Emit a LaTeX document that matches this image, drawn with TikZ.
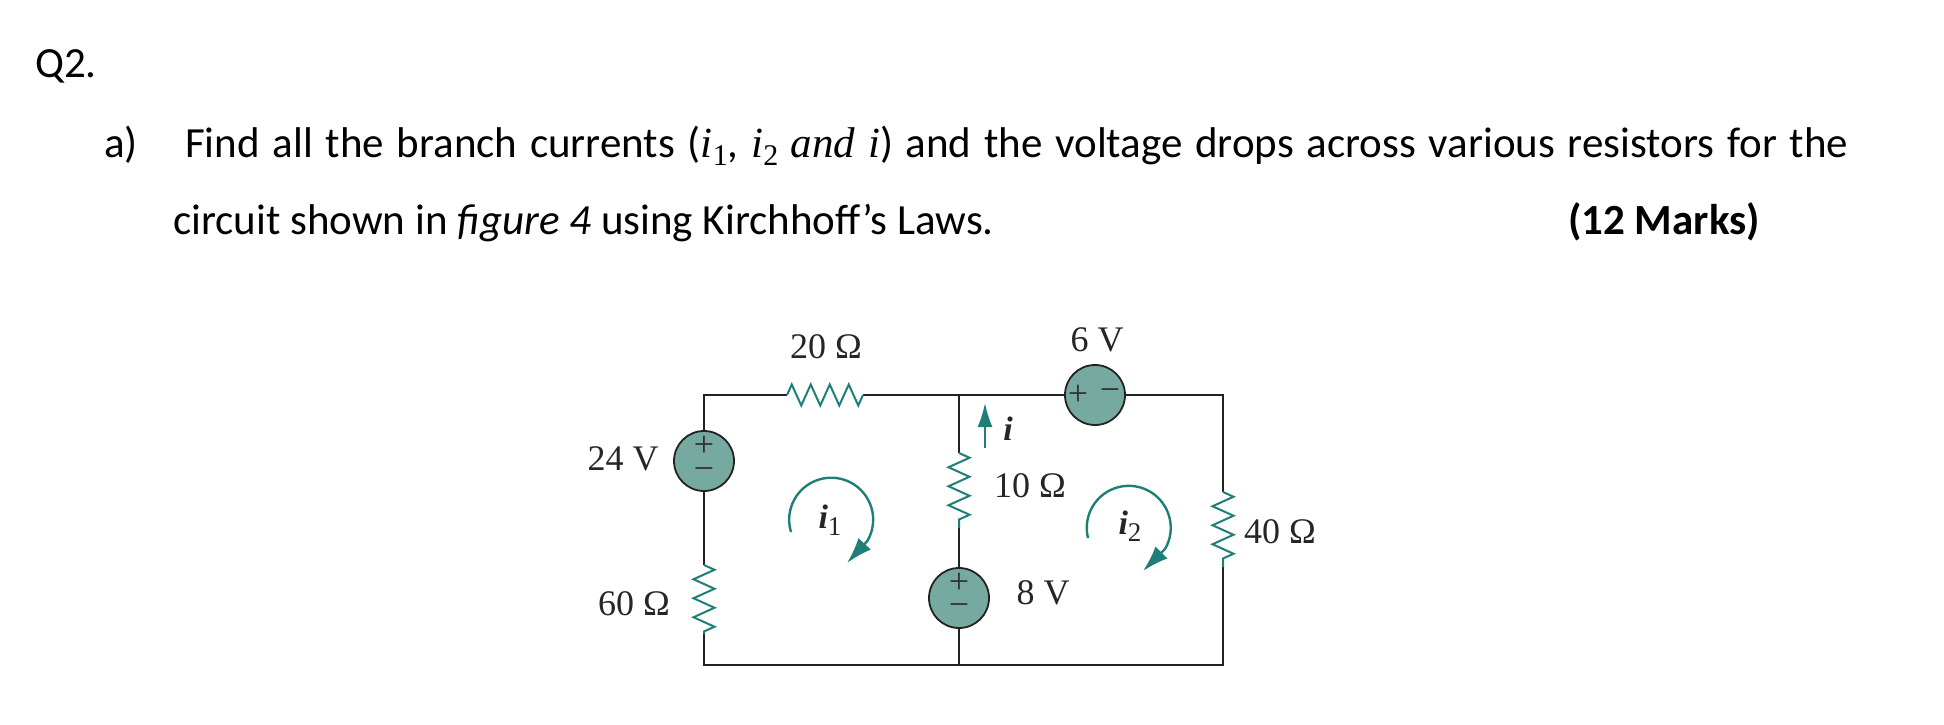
\documentclass[tikz,border=0pt]{standalone}
\usepackage{fontspec}
\setmainfont{Carlito}
\newfontfamily\labfont{Liberation Serif}
\usetikzlibrary{arrows.meta,decorations.pathmorphing}
\definecolor{srcfill}{HTML}{76AAA0}
\definecolor{tealc}{HTML}{1F7F78}
\definecolor{wirec}{HTML}{222222}
\newcommand{\mvar}[2]{{\labfont\itshape #1}\raisebox{-8pt}{\labfont\fontsize{30}{30}\selectfont #2}}
\newcommand{\loopvar}[2]{{\bfseries\itshape #1}\raisebox{-7pt}{\fontsize{27}{27}\selectfont #2}}
\tikzset{
  x=1pt,y=1pt,
  doc/.style={anchor=base west,inner sep=0pt,font=\fontsize{43}{43}\selectfont,text=black},
  val/.style={inner sep=0pt,font=\labfont\fontsize{36}{36}\selectfont,text=black!85},
  wire/.style={draw=wirec,line width=2pt},
  res/.style={draw=tealc,line width=2pt,decorate,decoration={zigzag,segment length=19pt,amplitude=10.5pt}},
  src/.style={circle,draw=wirec,fill=srcfill,line width=1.8pt,minimum size=60pt,inner sep=0pt},
  pol/.style={inner sep=0pt,font=\labfont\fontsize{36}{36}\selectfont,text=black!80},
  flow/.style={draw=tealc,line width=2pt,-{Latex[length=24pt,width=15pt]}},
  cur/.style={draw=tealc,line width=2.4pt,-{Latex[length=26pt,width=17pt]}},
  loopname/.style={inner sep=0pt,font=\labfont\fontsize{34}{34}\selectfont,text=black!85}
}
\begin{document}
\begin{tikzpicture}
\useasboundingbox (0,0) rectangle (1944,724);
% document text
\node[doc] (q) at (35,646) {Q2.};
\node[doc] (a) at (104,566) {a)};
\node[doc] (l1) at (185,566) {\spaceskip=12.7pt Find all the branch currents ({\mvar{i}{1}}, {\mvar{i}{2}} {\labfont\itshape and i}) and the voltage drops across various resistors for the};
\node[doc] (l2) at (173,489) {circuit shown in \textit{figure 4} using Kirchhoff’s Laws.};
\node[doc,font=\fontsize{43}{43}\selectfont\bfseries] (marks) at (1568,489) {(12 Marks)};
% corners and junctions
\coordinate (tl) at (704,329);
\coordinate (tm) at (959,329);
\coordinate (tr) at (1223,329);
\coordinate (bl) at (704,59);
\coordinate (bm) at (959,59);
\coordinate (br) at (1223,59);
% sources
\node[src] (v24) at (704,263) {};
\node[src] (v8) at (959,126) {};
\node[src] (v6) at (1095,329) {};
% resistor ends
\coordinate (r20a) at (787,329);
\coordinate (r20b) at (863,329);
\coordinate (r60a) at (704,159);
\coordinate (r60b) at (704,90);
\coordinate (r10a) at (959,271);
\coordinate (r10b) at (959,196);
\coordinate (r40a) at (1223,232);
\coordinate (r40b) at (1223,157);
% wires
\draw[wire] (v24.north) -- (tl) -- (r20a);
\draw[wire] (r20b) -- (tm) -- (v6.west);
\draw[wire] (v6.east) -- (tr) -- (r40a);
\draw[wire] (r40b) -- (br) -- (bl) -- (r60b);
\draw[wire] (r60a) -- (v24.south);
\draw[wire] (tm) -- (r10a);
\draw[wire] (r10b) -- (v8.north);
\draw[wire] (v8.south) -- (bm);
% resistors
\draw[res] (r20a) -- (r20b);
\draw[res] (r60a) -- (r60b);
\draw[res] (r10a) -- (r10b);
\draw[res] (r40a) -- (r40b);
% polarities
\node[pol] (p24) at (704,278) {+};
\node[pol] (m24) at (704,250) {−};
\node[pol] (p8) at (959,141) {+};
\node[pol] (m8) at (959,114) {−};
\node[pol] (p6) at (1078,329) {+};
\node[pol] (m6) at (1110,329) {−};
% value labels
\node[val] (t20) at (826,377) {20 Ω};
\node[val] (t24) at (623,265) {24 V};
\node[val] (t60) at (634,120) {60 Ω};
\node[val] (t10) at (1030,238) {10 Ω};
\node[val] (t6) at (1097,384) {6 V};
\node[val] (t8) at (1043,131) {8 V};
\node[val] (t40) at (1280,192) {40 Ω};
% branch current
\coordinate (ia) at (985,276);
\coordinate (ib) at (985,321);
\draw[flow] (ia) -- (ib);
\node[loopname,font=\labfont\itshape\bfseries\fontsize{34}{34}\selectfont] (ti) at (1008,295) {i};
% loop currents
\coordinate (c1s) at (791,192);
\coordinate (c1t) at (847,161);
\coordinate (c2s) at (1088,186);
\coordinate (c2t) at (1143,153);
\draw[cur] (c1s) arc[start angle=197,end angle=-30,radius=42pt] -- (c1t);
\draw[cur] (c2s) arc[start angle=194,end angle=-30,radius=42pt] -- (c2t);
\node[loopname] (t1) at (830,204) {\loopvar{i}{1}};
\node[loopname] (t2) at (1130,198) {\loopvar{i}{2}};
\end{tikzpicture}
\end{document}
